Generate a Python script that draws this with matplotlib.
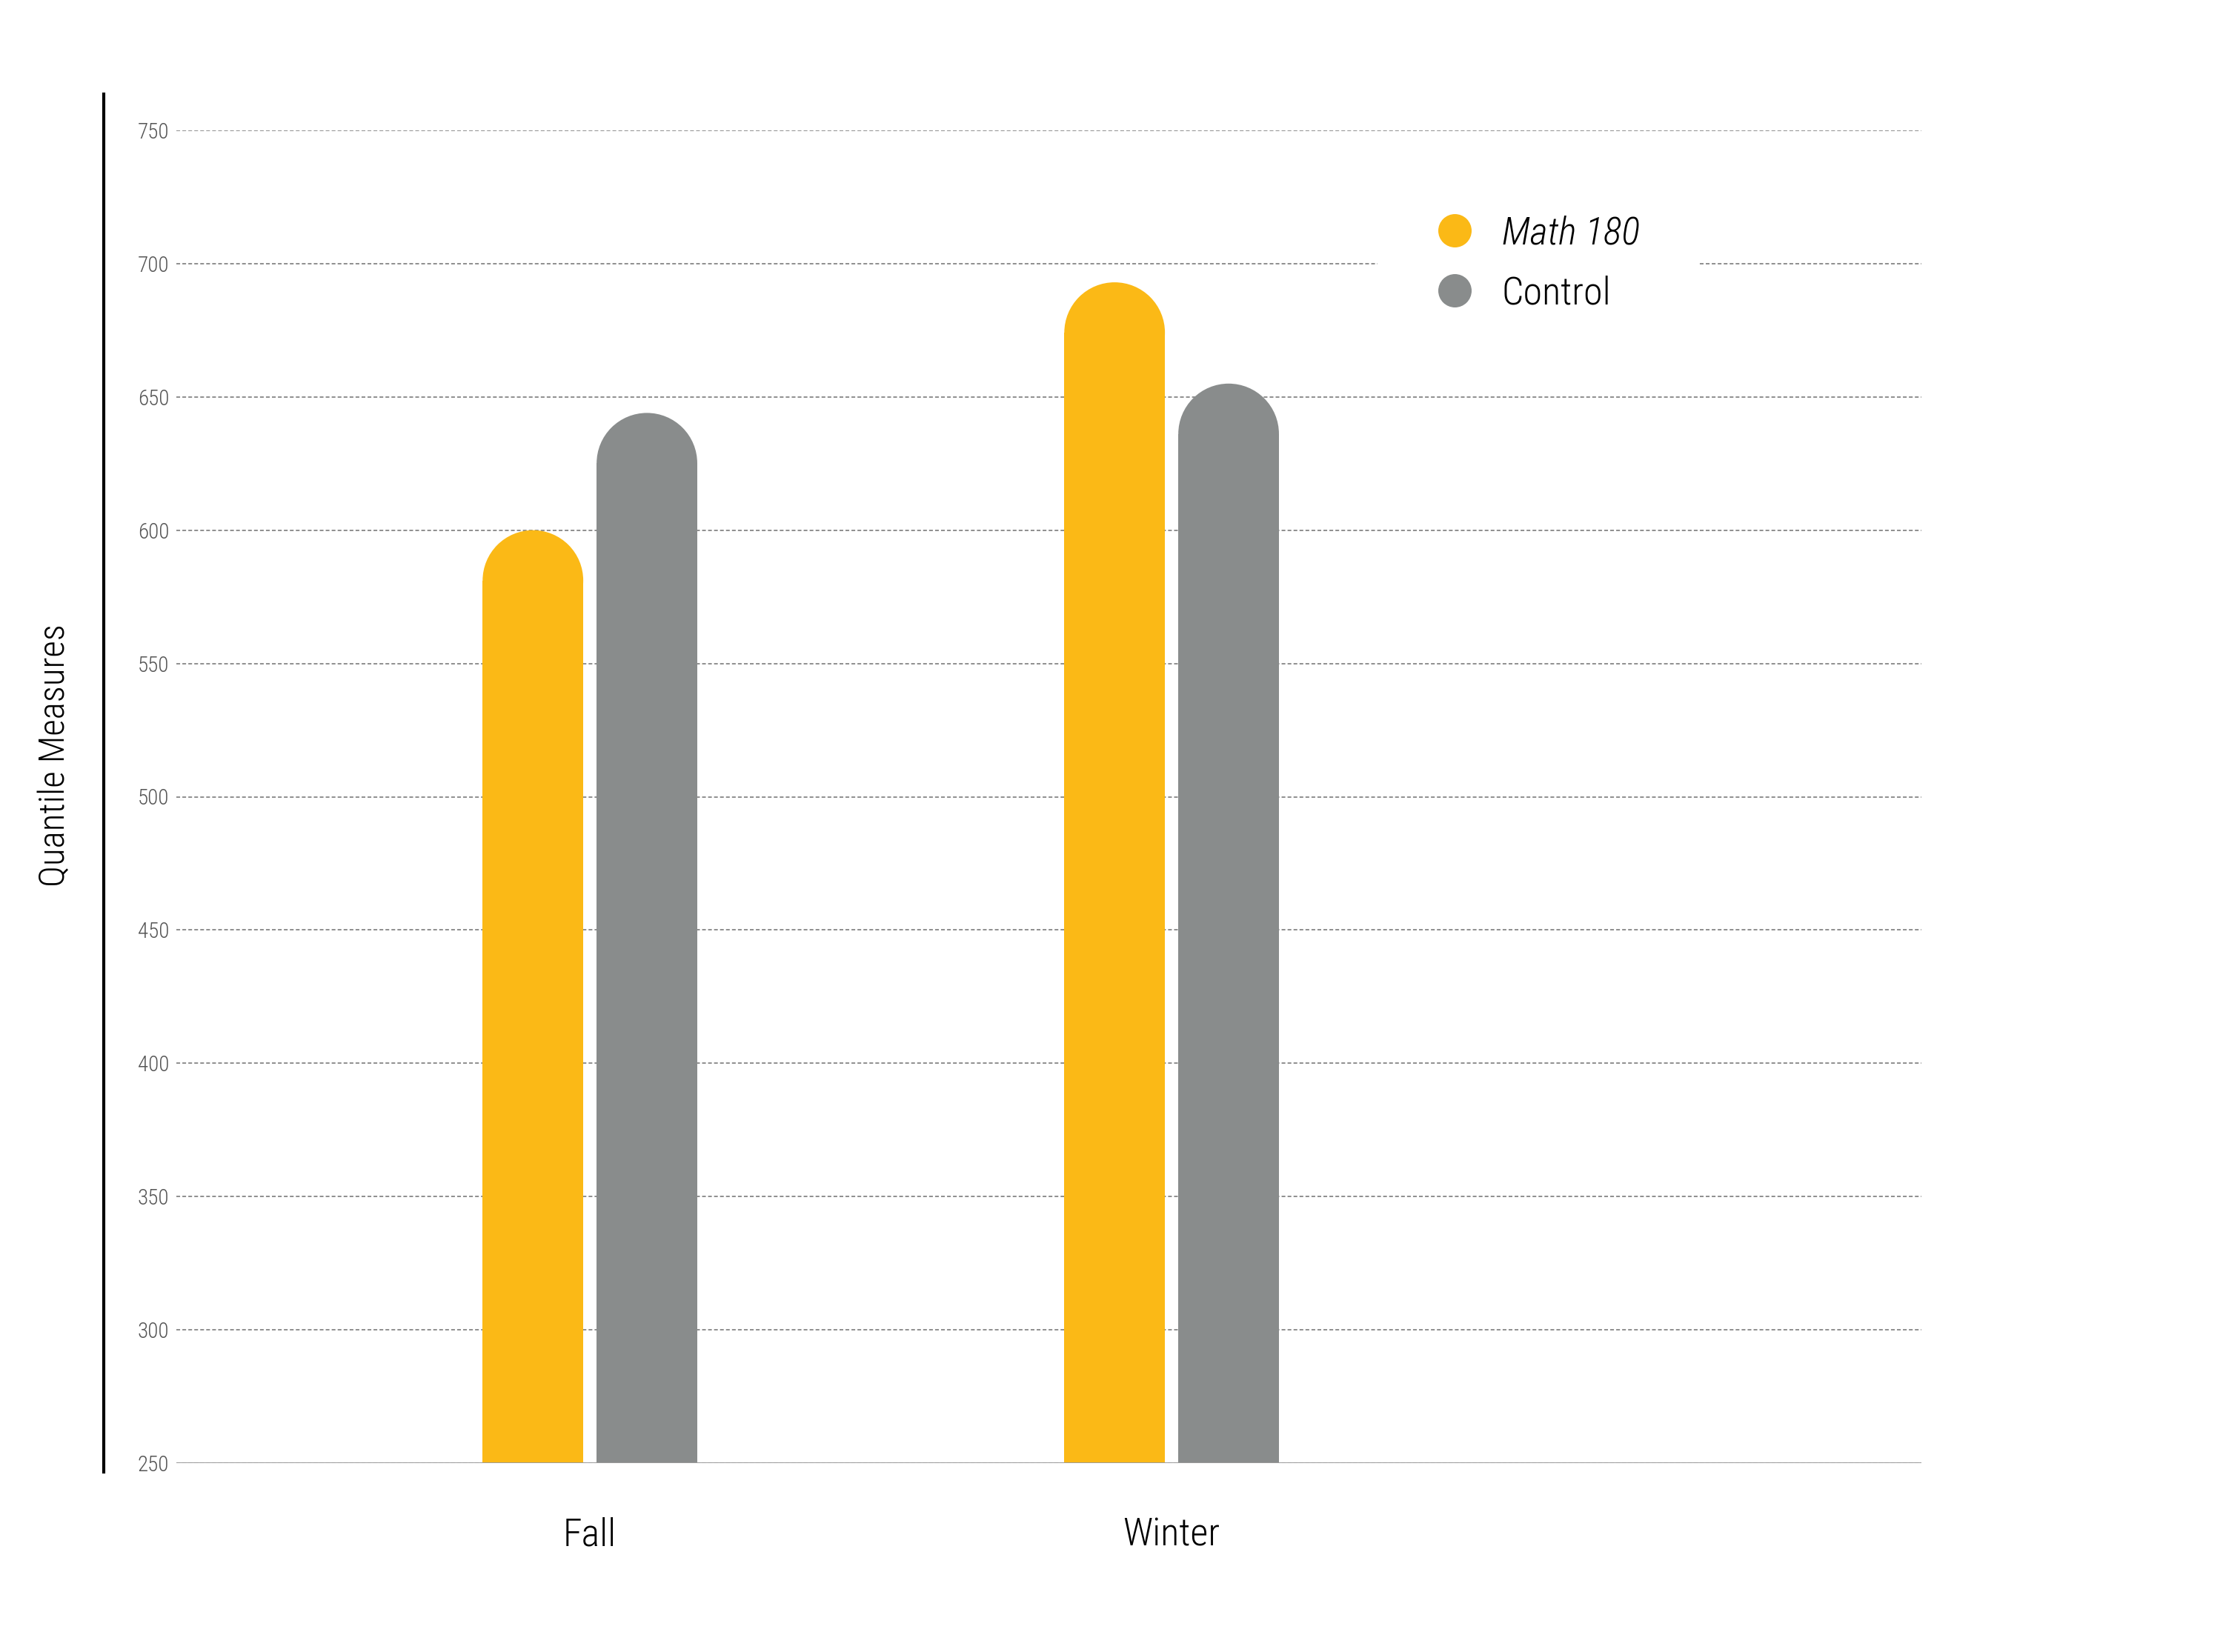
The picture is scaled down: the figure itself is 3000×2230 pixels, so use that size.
import matplotlib
matplotlib.use("Agg")
import matplotlib.pyplot as plt
from matplotlib.patches import Ellipse
from matplotlib.lines import Line2D

plt.rcParams['font.family'] = ['Roboto Condensed', 'Liberation Sans Narrow', 'Liberation Sans']
plt.rcParams['font.weight'] = 'light'

# datos
seasons = ['Fall', 'Winter']
series = ['Math 180', 'Control']
math180 = [600, 693]
control = [644, 655]
colors = ['#FBB916', '#898C8C']
yticks = [250, 300, 350, 400, 450, 500, 550, 600, 650, 700, 750]

fig = plt.figure(figsize=(10, 2230 / 300), dpi=300)
ax = fig.add_axes([238 / 3000, 255 / 2230, 2355 / 3000, 1799 / 2230])
ax.set_xlim(-0.711, 2.289)
ax.set_ylim(250, 750)

bar_w = 0.173
offsets = [-0.098, 0.098]

# radio del remate redondo en unidades de datos
p0 = ax.transData.transform((0, 250))
p1 = ax.transData.transform((bar_w, 251))
r_px = (p1[0] - p0[0]) / 2
r_y = r_px / (p1[1] - p0[1])

for vals, off, col in zip([math180, control], offsets, colors):
    for i, v in enumerate(vals):
        x = i + off
        ax.bar(x, v - r_y - 250, bottom=250, width=bar_w, color=col,
               linewidth=0, zorder=3)
        ax.add_patch(Ellipse((x, v - r_y), bar_w, 2 * r_y, color=col,
                             linewidth=0, zorder=3))

# rejilla
ax.set_yticks(yticks)
ax.yaxis.grid(True, color='#8a8a8a', linewidth=0.45, linestyle=(0, (2.7, 1.6)))
ax.set_axisbelow(True)
ax.axhline(250, color='#9a9a9a', linewidth=0.7, zorder=4)
for s in ax.spines.values():
    s.set_visible(False)
ax.tick_params(axis='y', length=0, pad=2.4, labelsize=7, labelcolor='#555555')
ax.tick_params(axis='x', length=0, pad=17.5, labelsize=12.5, labelcolor='black')
ax.set_xticks([0, 1])
ax.set_xticklabels(seasons)

# línea vertical negra a la izquierda
fig.lines.append(Line2D([140 / 3000, 140 / 3000], [1 - 127 / 2230, 1 - 1987 / 2230],
                        transform=fig.transFigure, color='black', linewidth=1.0))

fig.text(74 / 3000, 1 - 1020 / 2230, 'Quantile Measures', rotation=90,
         ha='center', va='center', fontsize=11.8)

handles = [Line2D([], [], linestyle='none', marker='o', markersize=10.8,
                  markerfacecolor=c, markeredgewidth=0) for c in colors]
leg = ax.legend(handles, series, loc='upper left',
                bbox_to_anchor=(1859 / 3000, 1 - 212 / 2230),
                bbox_transform=fig.transFigure, borderaxespad=0,
                fontsize=12.5, frameon=True, facecolor='white', edgecolor='none',
                framealpha=1, fancybox=False, borderpad=1.5, handlelength=1.0,
                handletextpad=0.72, labelspacing=0.6)
leg.get_texts()[0].set_fontstyle('italic')
leg.set_zorder(5)

fig.savefig('out.png', dpi=300, facecolor='white')
